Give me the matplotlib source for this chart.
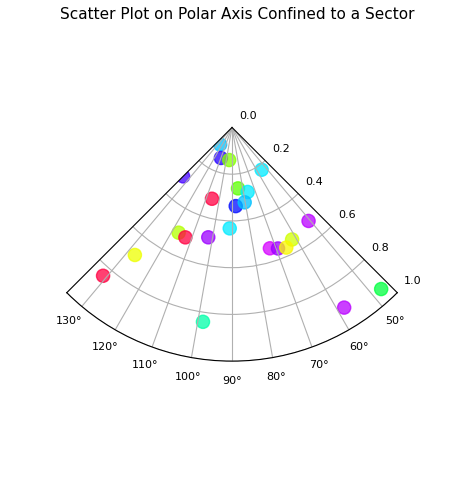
import matplotlib
matplotlib.use("Agg")
import matplotlib.pyplot as plt
import numpy as np

theta_deg = [124.8,110,95,135,55,105.7,84.4,76.4,87.3,80.4,50.7,116.9,113,102.2,91.3,61.8,72.6,69.2,65.7,127.3,131,47.3,58.1,98.5]
radius = [0.089,0.139,0.14,0.296,0.221,0.317,0.262,0.284,0.337,0.325,0.517,0.505,0.511,0.481,0.432,0.544,0.542,0.554,0.564,0.686,0.841,0.941,0.908,0.841]
color_val = [0.55,0.7,0.25,0.72,0.52,0.97,0.28,0.52,0.67,0.55,0.8,0.22,0.97,0.78,0.52,0.2,0.82,0.78,0.17,0.18,0.97,0.38,0.8,0.45]

fig = plt.figure(figsize=(4.74,4.79), dpi=100)
ax = fig.add_axes([0.017,0.145,0.945,0.69], projection='polar')
ax.scatter(np.deg2rad(theta_deg), radius, c=color_val, cmap='hsv', vmin=0, vmax=1, s=90, alpha=0.75)
ax.set_theta_direction(-1)
ax.set_thetamin(45)
ax.set_thetamax(135)
ax.set_rlim(0,1)
ax.set_rticks([0,0.2,0.4,0.6,0.8,1.0])
ax.set_yticklabels(['0.0','0.2','0.4','0.6','0.8','1.0'])
ax.set_thetagrids(np.arange(50,131,10))
ax.tick_params(labelsize=8)
fig.suptitle("Scatter Plot on Polar Axis Confined to a Sector", fontsize=11, y=0.985)
fig.savefig("out.png", dpi=100)
